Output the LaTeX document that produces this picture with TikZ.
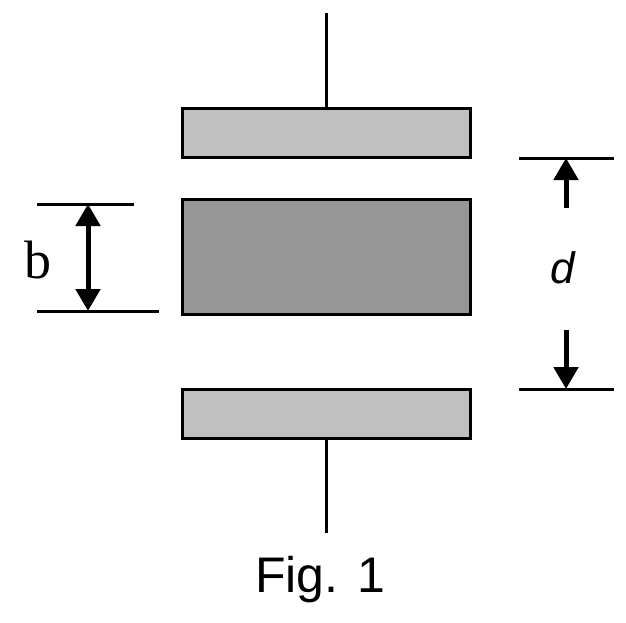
\documentclass[tikz,border=0pt]{standalone}
\usepackage{fontspec}
\setmainfont{Liberation Serif}
\newfontfamily\sansf{Liberation Sans}
\usetikzlibrary{arrows.meta}
\definecolor{lg}{RGB}{192,192,192}
\definecolor{dg}{RGB}{150,150,150}
\begin{document}
\begin{tikzpicture}[x=1pt,y=-1pt,
  ln/.style={line width=3pt},
  plate/.style={draw,line width=3pt,fill=#1,inner sep=0pt},
  tip/.style={Triangle[length=22pt,width=24pt]},
  ar/.style={line width=5pt,-{Triangle[length=22pt,width=24pt]}},
  dar/.style={line width=5pt,{Triangle[length=22pt,width=24pt]}-{Triangle[length=22pt,width=24pt]}}]
\useasboundingbox[fill=white] (0,0) rectangle (626,623);
\node[plate=lg,minimum width=288pt,minimum height=48pt] (top) at (326,133) {};
\node[plate=dg,minimum width=288pt,minimum height=115pt] (mid) at (326,256.5) {};
\node[plate=lg,minimum width=288pt,minimum height=49pt] (bot) at (326,413.5) {};
\coordinate (wt) at (326,13);
\coordinate (wb) at (326,533);
\draw[ln] (wt) -- (top.north);
\draw[ln] (bot.south) -- (wb);
% b dimension
\coordinate (b1l) at (37,204); \coordinate (b1r) at (134,204);
\coordinate (b2l) at (37,311); \coordinate (b2r) at (159,311);
\draw[ln] (b1l) -- (b1r);
\draw[ln] (b2l) -- (b2r);
\coordinate (ba) at (88,204); \coordinate (bb) at (88,311);
\draw[dar] (ba) -- (bb);
\node[font=\fontsize{54}{54}\selectfont] (bl) at (38,260) {b};
% d dimension
\coordinate (d1l) at (519,158); \coordinate (d1r) at (614,158);
\coordinate (d2l) at (519,389); \coordinate (d2r) at (614,389);
\draw[ln] (d1l) -- (d1r);
\draw[ln] (d2l) -- (d2r);
\coordinate (da0) at (566,208); \coordinate (da1) at (566,158);
\coordinate (db0) at (566,330); \coordinate (db1) at (566,389);
\draw[ar] (da0) -- (da1);
\draw[ar] (db0) -- (db1);
\node[font=\sansf\itshape\fontsize{44}{44}\selectfont] (dl) at (563,268) {d};
\node[font=\sansf\fontsize{50}{50}\selectfont] (fig) at (320,580) {Fig. 1};
\end{tikzpicture}
\end{document}
